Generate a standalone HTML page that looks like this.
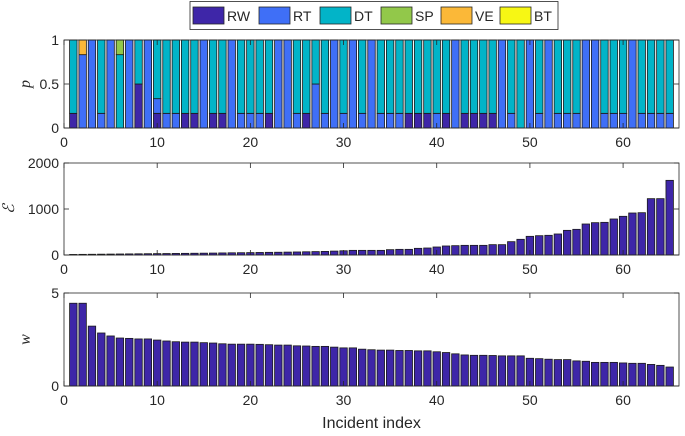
<!DOCTYPE html>
<html><head><meta charset="utf-8"><style>
body{margin:0;background:#fff;}
svg{display:block;font-family:"Liberation Sans",Arial,sans-serif;}
</style></head><body>
<svg id="chart" width="685" height="436" viewBox="0 0 685 436" xmlns="http://www.w3.org/2000/svg"></svg>
<script>
// ---- data ----
const categories = ["RW","RT","DT","SP","VE","BT"];
const catColors = ["#3e26a8","#3f6ff7","#02b4c8","#92c84a","#fbb838","#f7f714"];
// composition per incident: [RW, RT, DT, SP, VE, BT]
const S = 1/6;
const pShares = [
 [S,0,1-S,0,0,0],[0,5*S,0,0,S,0],[0,1,0,0,0,0],[0,S,1-S,0,0,0],[0,1,0,0,0,0],
 [0,0,5*S,S,0,0],[0,1,0,0,0,0],[0.5,0,0.5,0,0,0],[0,1,0,0,0,0],[S,S,1-2*S,0,0,0],
 [0,S,1-S,0,0,0],[0,S,1-S,0,0,0],[S,0,1-S,0,0,0],[S,0,1-S,0,0,0],[0,1,0,0,0,0],
 [S,0,1-S,0,0,0],[S,0,1-S,0,0,0],[0,1,0,0,0,0],[0,S,1-S,0,0,0],[0,S,1-S,0,0,0],
 [0,S,1-S,0,0,0],[S,0,1-S,0,0,0],[0,1,0,0,0,0],[0,1,0,0,0,0],[0,S,1-S,0,0,0],
 [S,0,1-S,0,0,0],[0,0.5,0.5,0,0,0],[0,S,1-S,0,0,0],[0,1,0,0,0,0],[0,S,1-S,0,0,0],
 [0,1,0,0,0,0],[0,S,1-S,0,0,0],[0,1,0,0,0,0],[0,S,1-S,0,0,0],[0,S,1-S,0,0,0],
 [0,S,1-S,0,0,0],[S,0,1-S,0,0,0],[S,0,1-S,0,0,0],[S,0,1-S,0,0,0],[0,S,1-S,0,0,0],
 [S,0,1-S,0,0,0],[0,1,0,0,0,0],[S,0,1-S,0,0,0],[S,0,1-S,0,0,0],[S,0,1-S,0,0,0],
 [S,0,1-S,0,0,0],[0,1,0,0,0,0],[0,S,1-S,0,0,0],[0,0,1,0,0,0],[0,1,0,0,0,0],
 [0,S,1-S,0,0,0],[0,1,0,0,0,0],[0,S,1-S,0,0,0],[0,S,1-S,0,0,0],[0,S,1-S,0,0,0],
 [0,1,0,0,0,0],[0,1,0,0,0,0],[0,S,1-S,0,0,0],[0,S,1-S,0,0,0],[0,S,1-S,0,0,0],
 [0,1,0,0,0,0],[0,S,1-S,0,0,0],[0,S,1-S,0,0,0],[0,S,1-S,0,0,0],[0,S,1-S,0,0,0]
];
const energy = [12,14,16,18,20,22,24,26,28,30,32,34,36,38,40,42,45,48,50,52,55,58,60,63,66,70,74,78,85,92,101,
 101,101,101,116,123,123,145,152,174,196,203,210,210,210,225,225,290,341,406,420,428,457,536,558,674,703,710,783,841,913,920,1225,1225,1623];
const weight = [4.45,4.45,3.22,2.85,2.69,2.58,2.56,2.53,2.53,2.47,2.42,2.38,2.36,2.36,2.33,2.31,2.27,2.25,2.25,2.25,2.24,2.22,2.2,2.2,2.16,2.15,2.13,2.13,2.09,2.05,2.05,
 1.98,1.95,1.93,1.93,1.91,1.91,1.89,1.89,1.84,1.8,1.73,1.67,1.65,1.65,1.64,1.62,1.62,1.62,1.49,1.47,1.44,1.42,1.42,1.35,1.33,1.27,1.27,1.27,1.24,1.22,1.22,1.16,1.11,1.02];
const xTicks = [0,10,20,30,40,50,60];
const pTicks = [0,0.5,1];
const eTicks = [0,1000,2000];
const wTicks = [0,5];

// ---- layout ----
const NS="http://www.w3.org/2000/svg";
const svg=document.getElementById('chart');
const X0=64,X1=679,XMAX=66;
const xs=v=>X0+v*(X1-X0)/XMAX;
const bw=0.8*(X1-X0)/XMAX;
function mk(tag,attrs,parent){const e=document.createElementNS(NS,tag);for(const k in attrs)e.setAttribute(k,attrs[k]);(parent||svg).appendChild(e);return e;}
const panels=[
 {name:'p',top:40,bot:128,max:1,ticks:pTicks,label:'p',lx:30,fmt:v=>String(v)},
 {name:'energy',top:163,bot:255,max:2000,ticks:eTicks,label:'ℰ',lx:14,fmt:v=>String(v)},
 {name:'w',top:293,bot:386,max:5,ticks:wTicks,label:'w',lx:30,fmt:v=>String(v)}
];
panels.forEach((P,pi)=>{
 const g=mk('g',{});
 
 
 const ys=v=>P.bot-v*(P.bot-P.top)/P.max;
 for(let i=0;i<65;i++){
  const cx=xs(i+1);
  if(pi===0){
   let acc=0;
   pShares[i].forEach((s,c)=>{
    if(s<=0)return;
    const r=mk('rect',{x:cx-bw/2,y:ys(acc+s),width:bw,height:ys(acc)-ys(acc+s),fill:catColors[c],stroke:'#1a1a1a','stroke-width':0.8},g);
    
    
    acc+=s;
   });
  } else {
   const v=pi===1?energy[i]:weight[i];
   const r=mk('rect',{x:cx-bw/2,y:ys(v),width:bw,height:P.bot-ys(v),fill:'#3e26a8',stroke:'#1a1a1a','stroke-width':0.8},g);
   
   
  }
 }
 mk('rect',{x:X0,y:P.top,width:X1-X0,height:P.bot-P.top,fill:'none',stroke:'#262626','stroke-width':0.8},g);
 xTicks.forEach(t=>{
  mk('line',{x1:xs(t),x2:xs(t),y1:P.bot,y2:P.bot-5,stroke:'#262626','stroke-width':0.8},g);
  mk('line',{x1:xs(t),x2:xs(t),y1:P.top,y2:P.top+5,stroke:'#262626','stroke-width':0.8},g);
  const tx=mk('text',{x:xs(t),y:P.bot+19,'text-anchor':'middle','font-size':14,fill:'#262626'},g);
  tx.textContent=t;
  
  
 });
 P.ticks.forEach(t=>{
  mk('line',{x1:X0,x2:X0+5,y1:ys(t),y2:ys(t),stroke:'#262626','stroke-width':0.8},g);
  mk('line',{x1:X1,x2:X1-5,y1:ys(t),y2:ys(t),stroke:'#262626','stroke-width':0.8},g);
  const ty=mk('text',{x:X0-5,y:ys(t)+5,'text-anchor':'end','font-size':14,fill:'#262626'},g);
  ty.textContent=P.fmt(t);
  
  
 });
 const yl=mk('text',{x:0,y:0,transform:`translate(${P.lx},${(P.top+P.bot)/2}) rotate(-90)`,'text-anchor':'middle','font-size':16,'font-style':'italic','font-family':'Liberation Serif, serif',fill:'#262626'},g);
 yl.textContent=P.label;
 
 
});
const xl=mk('text',{x:(X0+X1)/2,y:428,'text-anchor':'middle','font-size':16,fill:'#262626'});
xl.textContent='Incident index';


const lg=mk('g',{});


mk('rect',{x:190,y:1.5,width:368,height:28,fill:'#fff',stroke:'#262626','stroke-width':0.8},lg);
const legX=[193,259,320,381,441,500];
categories.forEach((c,i)=>{
 const e=mk('g',{},lg);
 
 
 mk('rect',{x:legX[i],y:7,width:31,height:17,fill:catColors[i],stroke:'#262626','stroke-width':0.8},e);
 const t=mk('text',{x:legX[i]+34,y:21,'font-size':14,fill:'#262626'},e);
 t.textContent=c;
});
</script>
</body></html>
